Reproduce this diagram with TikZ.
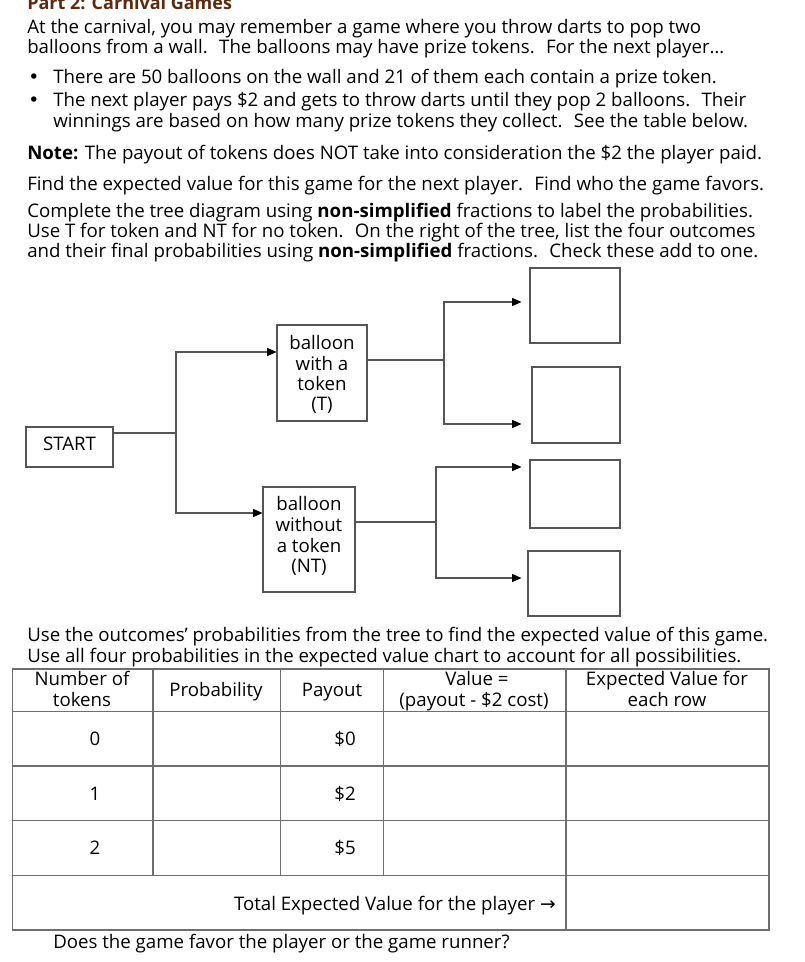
\documentclass[tikz,border=0pt]{standalone}
\usepackage{fontspec}
\setmainfont{Open Sans}
\newfontfamily\symfont{DejaVu Sans}
\usetikzlibrary{arrows.meta,calc}
\definecolor{titlebrown}{HTML}{5C2A0E}
\definecolor{linegray}{HTML}{555555}
\definecolor{tablegray}{HTML}{6E6E6E}
\newcommand\bodysize{\fontsize{14}{16}\selectfont}
\begin{document}
\begin{tikzpicture}[x=0.75pt,y=-0.75pt,
  txt/.style={inner sep=0pt, anchor=base west, font=\bodysize},
  ctxt/.style={inner sep=0pt, anchor=base, font=\bodysize},
  bul/.style={inner sep=0pt, anchor=base west, font=\symfont\fontsize{14}{16}\selectfont},
  box/.style={draw=linegray, line width=0.8pt, inner sep=0pt},
  conn/.style={draw=linegray, line width=0.8pt},
  arr/.style={conn, -{Triangle[length=7pt,width=6pt,color=black]}},
  tline/.style={draw=tablegray, line width=1.1pt}]
\useasboundingbox (0,0) rectangle (804,962);

% ---- text block ----
\node[txt, font=\fontsize{13.5}{16}\selectfont\bfseries, text=titlebrown] (title) at (27,10) {Part 2: Carnival Games};
\node[txt] (l1) at (27,33.3) {At the carnival, you may remember a game where you throw darts to pop two};
\node[txt] (l2) at (27,53.3) {balloons from a wall.~ The balloons may have prize tokens.~ For the next player…};
\node[bul] (b1) at (28,83.3) {•};
\node[txt] (l3) at (53,83.3) {There are 50 balloons on the wall and 21 of them each contain a prize token.};
\node[bul] (b2) at (28,107) {•};
\node[txt] (l4) at (53,107) {The next player pays \$2 and gets to throw darts until they pop 2 balloons.~ Their};
\node[txt] (l5) at (53,127.7) {winnings are based on how many prize tokens they collect.~ See the table below.};
\node[txt] (l6) at (27,160) {\textbf{Note:} The payout of tokens does NOT take into consideration the \$2 the player paid.};
\node[txt] (l7) at (27,190.7) {Find the expected value for this game for the next player.~ Find who the game favors.};
\node[txt] (l8) at (27,217.3) {Complete the tree diagram using \textbf{non-simplified} fractions to label the probabilities.};
\node[txt] (l9) at (27,237.3) {Use T for token and NT for no token.~ On the right of the tree, list the four outcomes};
\node[txt] (l10) at (27,257.3) {and their final probabilities using \textbf{non-simplified} fractions.~ Check these add to one.};

% ---- tree ----
\node[box, minimum width=87*0.75pt, minimum height=40*0.75pt] (S) at (69.5,447) {};
\node[ctxt] (St) at (69.5,450) {START};

\node[box, minimum width=90*0.75pt, minimum height=96*0.75pt] (T) at (322,373) {};
\node[ctxt] (Tt1) at (322,349) {balloon};
\node[ctxt] (Tt2) at (322,370) {with a};
\node[ctxt] (Tt3) at (322,390.7) {token};
\node[ctxt] (Tt4) at (322,410.7) {(T)};

\node[box, minimum width=92*0.75pt, minimum height=105*0.75pt] (NT) at (309,539.5) {};
\node[ctxt] (Nt1) at (309,510.7) {balloon};
\node[ctxt] (Nt2) at (309,531.7) {without};
\node[ctxt] (Nt3) at (309,552.7) {a token};
\node[ctxt] (Nt4) at (309,572.7) {(NT)};

\node[box, minimum width=90*0.75pt, minimum height=75*0.75pt] (O1) at (575,305.5) {};
\node[box, minimum width=88*0.75pt, minimum height=76*0.75pt] (O2) at (576,405) {};
\node[box, minimum width=90*0.75pt, minimum height=68*0.75pt] (O3) at (575,494) {};
\node[box, minimum width=92*0.75pt, minimum height=65*0.75pt] (O4) at (574,583.5) {};

\coordinate (j0) at (176,433);
\coordinate (jT) at (444,360);
\coordinate (jN) at (436,522);

\draw[conn] (S.east |- j0) -- (j0);
\draw[arr] (j0) |- ($(T.west)+(0,-21)$);
\draw[arr] (j0) |- ($(NT.west)+(0,-26.5)$);

\draw[conn] (T.east |- jT) -- (jT);
\draw[arr] (jT) |- ($(O1.west)+(-8,-3.5)$);
\draw[arr] (jT) |- ($(O2.west)+(-10,19)$);

\draw[conn] (NT.east |- jN) -- (jN);
\draw[arr] (jN) |- ($(O3.west)+(-8,-27)$);
\draw[arr] (jN) |- ($(O4.west)+(-6,-5.5)$);

% ---- text before table ----
\node[txt] (u1) at (27,641.7) {Use the outcomes’ probabilities from the tree to find the expected value of this game.};
\node[txt] (u2) at (27,662.7) {Use all four probabilities in the expected value chart to account for all possibilities.};

% ---- table ----
\draw[tline] (12.3,669) rectangle (769,930);
\foreach \yy in {711.7,766,820.7,875.3} \draw[tline] (12.3,\yy) -- (769,\yy);
\foreach \xx in {153,280.5,383.6} \draw[tline] (\xx,669) -- (\xx,875.3);
\draw[tline] (566,669) -- (566,930);

\node[ctxt] (h1a) at (82,685.7) {Number of};
\node[ctxt] (h1b) at (82,706) {tokens};
\node[ctxt] (h2) at (216,696) {Probability};
\node[ctxt] (h3) at (332,696) {Payout};
\node[ctxt] (h4a) at (477,685.7) {Value =};
\node[ctxt] (h4b) at (474,706) {(payout - \$2 cost)};
\node[ctxt] (h5a) at (667,685.7) {Expected Value for};
\node[ctxt] (h5b) at (667,706) {each row};

\node[ctxt] (r0) at (95,745) {0};
\node[ctxt] (p0) at (345,745) {\$0};
\node[ctxt] (r1) at (95,800) {1};
\node[ctxt] (p1) at (345,800) {\$2};
\node[ctxt] (r2) at (95,854.3) {2};
\node[ctxt] (p2) at (345,854.3) {\$5};

\node[txt, anchor=base east] (tot) at (556,910) {Total Expected Value for the player {\symfont →}};
\node[txt] (q) at (53,948.3) {Does the game favor the player or the game runner?};
\end{tikzpicture}
\end{document}
